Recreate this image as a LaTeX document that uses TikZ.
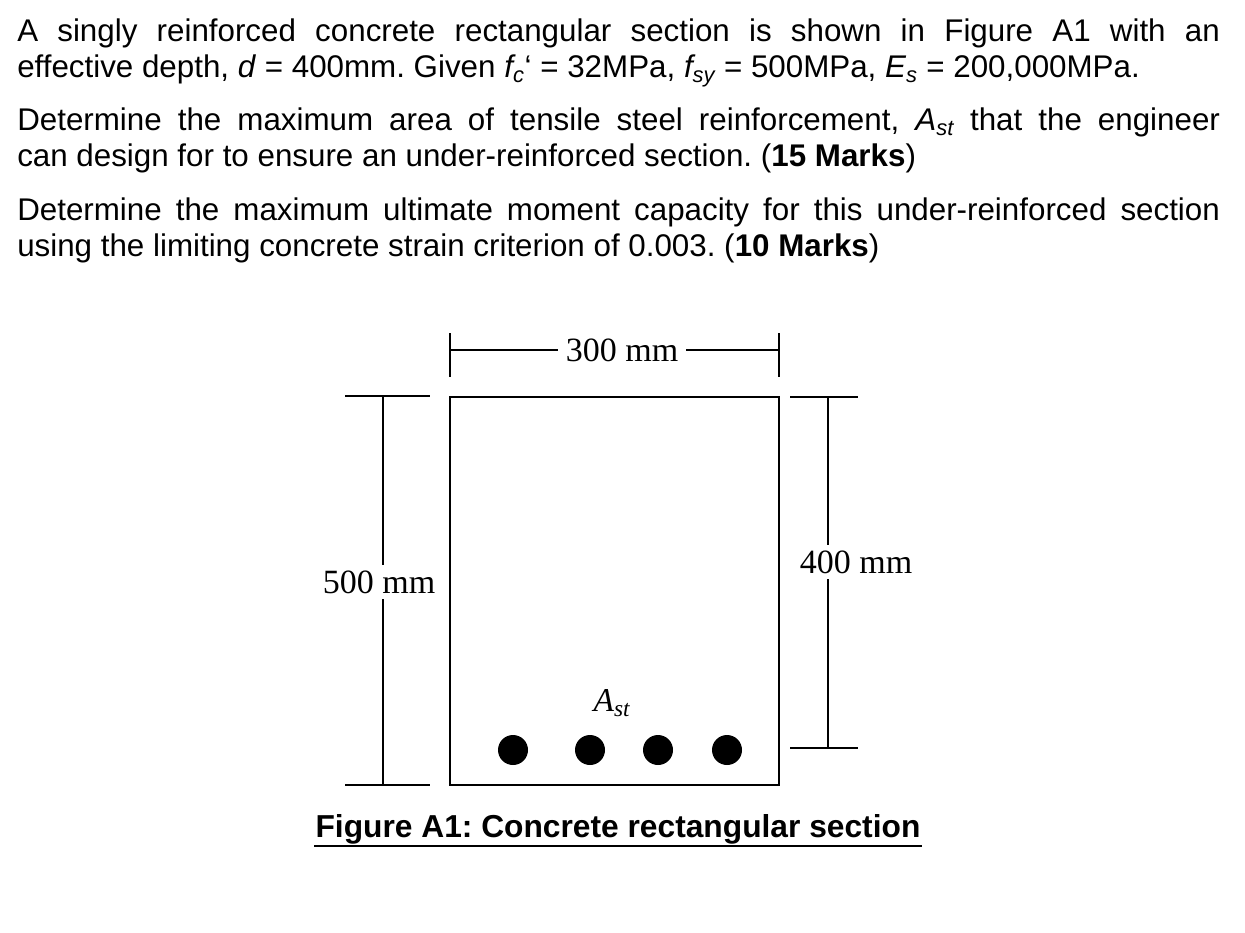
\documentclass[tikz,border=0pt]{standalone}
\usepackage{fontspec}
\setmainfont{Liberation Sans}
\newfontfamily\timesf{Liberation Serif}
\begin{document}
\frenchspacing
\begin{tikzpicture}[x=0.75pt,y=-0.75pt,
  para/.style={anchor=north west,inner sep=0pt,text width=902pt,align=justify,font=\frenchspacing\fontsize{23.5}{27}\selectfont},
  dim/.style={line width=0.8pt},
  dimtxt/.style={font=\timesf\fontsize{25.5}{28}\selectfont,fill=white,inner xsep=6pt,inner ysep=4pt},
  bar/.style={circle,fill=black,minimum size=22.5pt,inner sep=0pt}]
\useasboundingbox (0,0) rectangle (1245,932);
\node[para] (p1) at (17,19) {A singly reinforced concrete rectangular section is shown in Figure A1 with an\linebreak effective depth, \textit{d} = 400mm. Given \textit{f\textsubscript{c}}‘ = 32MPa, \textit{f\textsubscript{sy}} = 500MPa, \textit{E\textsubscript{s}} = 200,000MPa.};
\node[para] (p2) at (17,108) {Determine the maximum area of tensile steel reinforcement, \textit{A\textsubscript{st}} that the engineer\linebreak can design for to ensure an under-reinforced section. (\textbf{15 Marks})};
\node[para] (p3) at (17,198) {Determine the maximum ultimate moment capacity for this under-reinforced section\linebreak using the limiting concrete strain criterion of 0.003. (\textbf{10 Marks})};
% section
\draw[line width=2pt] (450,397) rectangle (779,785);
% top dimension
\coordinate (tl) at (450,350); \coordinate (tr) at (779,350);
\draw[dim] (450,333) -- (450,377);
\draw[dim] (779,333) -- (779,377);
\draw[dim] (tl) -- (tr);
\node[dimtxt] (t300) at (622,350) {300 mm};
% left dimension
\draw[dim] (345,396) -- (430,396);
\draw[dim] (345,785) -- (430,785);
\coordinate (lt) at (383,396); \coordinate (lb) at (383,785);
\draw[dim] (lt) -- (lb);
\node[dimtxt] (t500) at (379,582) {500 mm};
% right dimension
\draw[dim] (790,397) -- (858,397);
\draw[dim] (790,748) -- (858,748);
\coordinate (rt) at (828,397); \coordinate (rb) at (828,748);
\draw[dim] (rt) -- (rb);
\node[dimtxt] (t400) at (856,562) {400 mm};
% bars
\node[bar] (b1) at (513,750) {};
\node[bar] (b2) at (590,750) {};
\node[bar] (b3) at (658,750) {};
\node[bar] (b4) at (727,750) {};
\node[font=\timesf\itshape\fontsize{25}{28}\selectfont] (ast) at (612,703) {A\textsubscript{st}};
\node[font=\fontsize{23.8}{26}\selectfont\bfseries] (cap) at (618,829) {Figure A1: Concrete rectangular section};
\draw[line width=1.5pt] (314,846) -- (922,846);
\end{tikzpicture}
\end{document}
